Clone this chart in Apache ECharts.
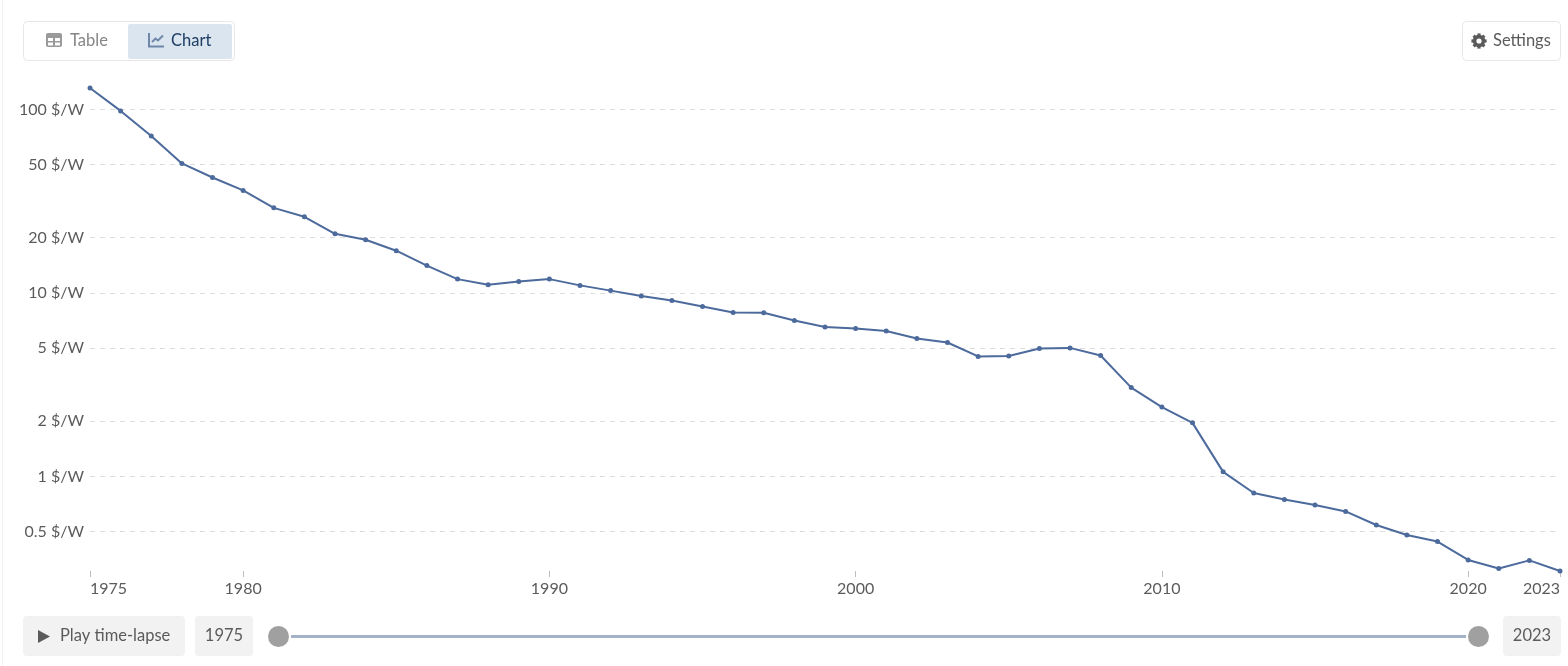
<!DOCTYPE html>
<html>
<head>
<meta charset="utf-8">
<title>Solar PV module price</title>
<script src="https://cdn.jsdelivr.net/npm/echarts@6/dist/echarts.min.js"></script>
<style>
html, body { margin: 0; padding: 0; background: #fff; }
#main { width: 1568px; height: 666px; }
</style>
</head>
<body>
<div id="main"></div>
<script>
var years = [];
for (var y = 1975; y <= 2023; y++) years.push(y);
var prices = [130.9, 98.2, 71.7, 50.8, 42.6, 36.2, 29.1, 26.0, 21.0, 19.5,
    17.0, 14.1, 11.9, 11.1, 11.55, 11.9, 11.0, 10.3, 9.63, 9.1,
    8.44, 7.83, 7.8, 7.08, 6.53, 6.40, 6.21, 5.65, 5.37, 4.51,
    4.54, 4.98, 5.02, 4.56, 3.05, 2.39, 1.96, 1.06, 0.813, 0.749,
    0.70, 0.645, 0.544, 0.48, 0.442, 0.351, 0.315, 0.349, 0.3055];
var yTicks = [0.5, 1, 2, 5, 10, 20, 50, 100];
var xTicks = [1975, 1980, 1990, 2000, 2010, 2020, 2023];
var startYear = '1975';
var endYear = '2023';

var font = 'Lato';
var textGrey = '#5b5b5b';
var uiFont = '16.5px Lato';

var seriesData = [];
for (var i = 0; i < years.length; i++) {
    seriesData.push([years[i], prices[i]]);
}

// gear teeth for the settings button
var gear = [{ type: 'circle', shape: { cx: 1479, cy: 41, r: 4.4 }, style: { fill: 'none', stroke: textGrey, lineWidth: 3.6 } }];
for (var k = 0; k < 8; k++) {
    gear.push({
        type: 'rect',
        x: 1479, y: 41, rotation: k * Math.PI / 4,
        shape: { x: -1.6, y: -7.6, width: 3.2, height: 3.4 },
        style: { fill: textGrey }
    });
}

var myChart = echarts.init(document.getElementById('main'));
var option = {
    animation: false,
    grid: { left: 90, right: 8, top: 88, bottom: 95 },
    xAxis: {
        type: 'value',
        min: 1975,
        max: 2023,
        axisLine: { show: false },
        splitLine: { show: false },
        axisTick: { show: true, length: 6, lineStyle: { color: '#bdbdbd' }, customValues: xTicks },
        axisLabel: {
            customValues: xTicks,
            formatter: function (v) { return String(v); },
            alignMinLabel: 'left',
            alignMaxLabel: 'right',
            color: textGrey,
            fontFamily: font,
            fontSize: 16,
            margin: 10
        }
    },
    yAxis: {
        type: 'log',
        logBase: 10,
        min: 0.3055,
        max: 130.9,
        axisLine: { show: false },
        axisTick: { show: false, customValues: yTicks },
        splitLine: { show: true, lineStyle: { color: '#dddddd', type: [5, 5] } },
        axisLabel: {
            customValues: yTicks,
            formatter: function (v) { return v + ' $/W'; },
            color: textGrey,
            fontFamily: font,
            fontSize: 16,
            margin: 6
        }
    },
    series: [{
        type: 'line',
        data: seriesData,
        clip: false,
        symbol: 'circle',
        symbolSize: 5,
        lineStyle: { color: '#4c6a9c', width: 2 },
        itemStyle: { color: '#4c6a9c' }
    }],
    graphic: [
        // page edge
        { type: 'line', shape: { x1: 2.5, y1: 0, x2: 2.5, y2: 666 }, style: { stroke: '#f2f2f2', lineWidth: 1 } },

        // table / chart switch
        { type: 'rect', shape: { x: 23.5, y: 21.5, width: 211, height: 39, r: 4 }, style: { fill: '#fff', stroke: '#e7e7e7', lineWidth: 1 } },
        { type: 'rect', shape: { x: 128, y: 24, width: 104, height: 35, r: 2 }, style: { fill: '#dbe5f0' } },
        { type: 'rect', shape: { x: 46, y: 33, width: 16, height: 14, r: 2 }, style: { fill: '#9a9a9a' } },
        { type: 'rect', shape: { x: 48, y: 38, width: 5, height: 3 }, style: { fill: '#fff' } },
        { type: 'rect', shape: { x: 55, y: 38, width: 5, height: 3 }, style: { fill: '#fff' } },
        { type: 'rect', shape: { x: 48, y: 42.5, width: 5, height: 3 }, style: { fill: '#fff' } },
        { type: 'rect', shape: { x: 55, y: 42.5, width: 5, height: 3 }, style: { fill: '#fff' } },
        { type: 'text', x: 70, y: 40.5, style: { text: 'Table', font: uiFont, fill: '#858585', verticalAlign: 'middle' } },
        { type: 'polyline', shape: { points: [[149, 33], [149, 46.5], [164, 46.5]] }, style: { fill: 'none', stroke: '#6f87a8', lineWidth: 2 } },
        { type: 'polyline', shape: { points: [[152, 42], [155.5, 38.5], [158, 40.5], [163, 35.5]] }, style: { fill: 'none', stroke: '#6f87a8', lineWidth: 2 } },
        { type: 'text', x: 171, y: 40.5, style: { text: 'Chart', font: uiFont, fill: '#1d3d63', verticalAlign: 'middle' } },

        // settings
        { type: 'rect', shape: { x: 1462.5, y: 21.5, width: 98, height: 39, r: 4 }, style: { fill: '#fff', stroke: '#e7e7e7', lineWidth: 1 } },
        { type: 'group', children: gear },
        { type: 'text', x: 1493, y: 40.5, style: { text: 'Settings', font: uiFont, fill: textGrey, verticalAlign: 'middle' } },

        // time-lapse controls
        { type: 'rect', shape: { x: 23, y: 616, width: 162, height: 40, r: 4 }, style: { fill: '#f2f2f2' } },
        { type: 'polygon', shape: { points: [[38, 630], [50, 636.5], [38, 643]] }, style: { fill: textGrey } },
        { type: 'text', x: 60, y: 636, style: { text: 'Play time-lapse', font: uiFont, fill: textGrey, verticalAlign: 'middle' } },
        { type: 'rect', shape: { x: 195, y: 616, width: 58, height: 40, r: 4 }, style: { fill: '#f2f2f2' } },
        { type: 'text', x: 224, y: 636, style: { text: startYear, font: uiFont, fill: textGrey, align: 'center', verticalAlign: 'middle' } },
        { type: 'line', shape: { x1: 291, y1: 636.5, x2: 1466, y2: 636.5 }, style: { stroke: '#a4b2c8', lineWidth: 3 } },
        { type: 'circle', shape: { cx: 278.5, cy: 636.5, r: 10.5 }, style: { fill: '#a0a0a0' } },
        { type: 'circle', shape: { cx: 1478.5, cy: 636.5, r: 10.5 }, style: { fill: '#a0a0a0' } },
        { type: 'rect', shape: { x: 1503, y: 616, width: 58, height: 40, r: 4 }, style: { fill: '#f2f2f2' } },
        { type: 'text', x: 1532, y: 636, style: { text: endYear, font: uiFont, fill: textGrey, align: 'center', verticalAlign: 'middle' } }
    ]
};
myChart.setOption(option);
</script>
</body>
</html>
